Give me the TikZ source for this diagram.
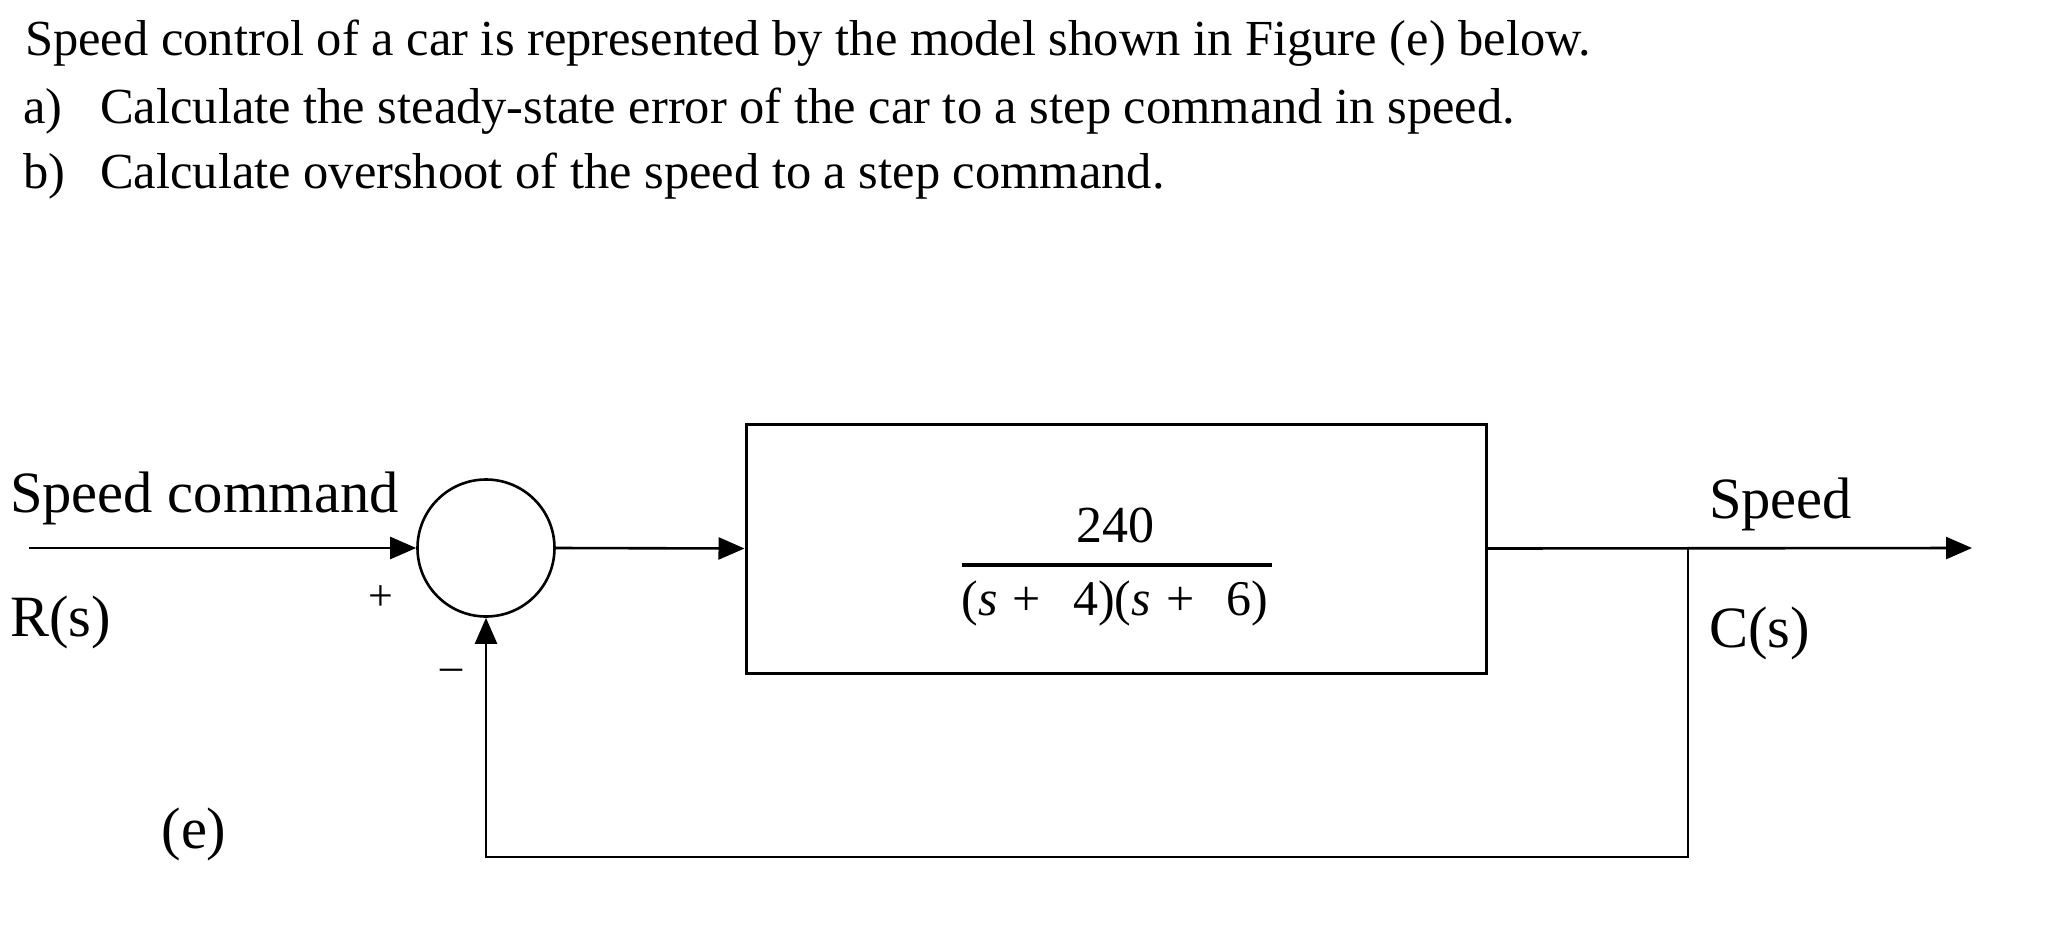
\documentclass[tikz,border=0pt]{standalone}
\usepackage{fontspec}
\setmainfont{Liberation Serif}
\usetikzlibrary{arrows.meta}
\begin{document}
\begin{tikzpicture}[x=1pt,y=-1pt,
  txt/.style={inner sep=0pt,anchor=base west,font=\fontsize{50.5}{60}\selectfont},
  lbl/.style={inner sep=0pt,anchor=base west,font=\fontsize{58.5}{70}\selectfont},
  sign/.style={inner sep=0pt,font=\fontsize{44}{52}\selectfont},
  wire/.style={line width=2.6pt},
  arr/.style={wire,-{Triangle[length=26pt,width=22pt]}},
  sumnode/.style={circle,draw,line width=2.6pt,minimum size=137pt,inner sep=0pt},
  blk/.style={rectangle,draw,line width=3pt,minimum width=740pt,minimum height=249pt,inner sep=0pt}]
\useasboundingbox (0,0) rectangle (2046,945);
% question text
\node[txt] (t0) at (25,55) {Speed control of a car is represented by the model shown in Figure (e) below.};
\node[txt] (ta) at (23,123) {a)};
\node[txt] (tat) at (100,123) {Calculate the steady-state error of the car to a step command in speed.};
\node[txt] (tb) at (23,188) {b)};
\node[txt] (tbt) at (100,188) {Calculate overshoot of the speed to a step command.};
% blocks
\node[sumnode] (sum) at (486,548) {};
\node[blk] (plant) at (1116,548.5) {};
\node[inner sep=0pt,anchor=base,font=\fontsize{52}{60}\selectfont] (num) at (1115,542) {240};
\node[inner sep=0pt,anchor=base,font=\fontsize{50}{60}\selectfont] (den) at (1115,615)
  {(\textit{s}\hspace{0.3em}+\hspace{0.65em}4)(\textit{s}\hspace{0.3em}+\hspace{0.65em}6)};
\coordinate (barl) at (962,565);
\coordinate (barr) at (1272,565);
\draw[line width=4.5pt] (barl) -- (barr);
% signals
\coordinate (in) at (29,548);
\coordinate (out) at (1972,548);
\coordinate (branch) at (1688,548);
\coordinate (fb) at (1688,857);
\draw[arr] (in) -- (sum.west);
\draw[arr] (sum.east) -- (plant.west);
\draw[arr] (plant.east) -- (out);
\draw[arr] (branch) -- (fb) -| (sum.south);
% labels
\node[lbl] (cmd) at (10,512) {Speed command};
\node[lbl] (rs) at (10,636) {R(s)};
\node[sign] (plus) at (381,598) {+};
\node[sign] (minus) at (451,675) {–};
\node[lbl,anchor=base] (e) at (194,848) {(e)};
\node[lbl] (spd) at (1709,518) {Speed};
\node[lbl] (cs) at (1709,647) {C(s)};
\end{tikzpicture}
\end{document}
